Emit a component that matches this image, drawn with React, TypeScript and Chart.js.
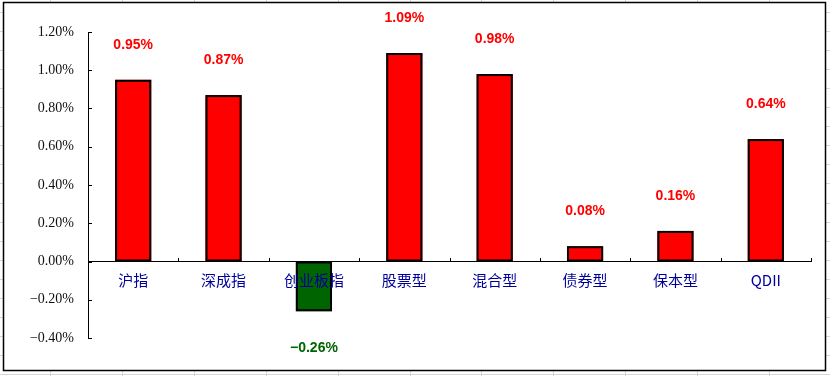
import React, { useEffect, useRef } from "react";
import { Chart, registerables } from "chart.js";

Chart.register(...registerables);

const categories = ["沪指", "深成指", "创业板指", "股票型", "混合型", "债券型", "保本型", "QDII"];
const values = [0.95, 0.87, -0.26, 1.09, 0.98, 0.08, 0.16, 0.64];
const yTicks = [-0.4, -0.2, 0, 0.2, 0.4, 0.6, 0.8, 1.0, 1.2];

const POS = "#ff0000";
const NEG = "#006400";

const fmt = (v: number) => (v < 0 ? "\u2212" : "") + Math.abs(v).toFixed(2) + "%";

const sheetPlugin = {
  id: "sheet",
  beforeDraw(chart: any) {
    const { ctx, width, height } = chart;
    ctx.save();
    ctx.fillStyle = "#ffffff";
    ctx.fillRect(0, 0, width, height);
    ctx.strokeStyle = "#d6d6d6";
    ctx.lineWidth = 1;
    for (let x = 50; x < width; x += 71.9) {
      ctx.beginPath();
      ctx.moveTo(Math.round(x) + 0.5, 0);
      ctx.lineTo(Math.round(x) + 0.5, height);
      ctx.stroke();
    }
    for (let y = 12; y < height; y += 19.05) {
      ctx.beginPath();
      ctx.moveTo(0, Math.round(y) + 0.5);
      ctx.lineTo(width, Math.round(y) + 0.5);
      ctx.stroke();
    }
    ctx.fillStyle = "#ffffff";
    ctx.fillRect(3, 2, 823, 369);
    ctx.strokeStyle = "#000000";
    ctx.lineWidth = 1.5;
    ctx.strokeRect(3.5, 2.5, 822, 368);
    ctx.restore();
  },
  afterDraw(chart: any) {
    const { ctx } = chart;
    const xs = chart.scales.x;
    const ys = chart.scales.y;
    const y0 = Math.round(ys.getPixelForValue(0));
    ctx.save();
    ctx.strokeStyle = "#000000";
    ctx.lineWidth = 1;
    const n = categories.length;
    for (let i = 1; i <= n; i++) {
      const x = Math.round((xs.getPixelForValue(i - 1) + xs.getPixelForValue(i)) / 2);
      const px = i === n ? Math.round(xs.right) : x;
      ctx.beginPath();
      ctx.moveTo(px + 0.5, y0);
      ctx.lineTo(px + 0.5, y0 - 4);
      ctx.stroke();
    }
    for (const v of yTicks) {
      const y = Math.round(ys.getPixelForValue(v)) + 0.5;
      ctx.beginPath();
      ctx.moveTo(xs.left, y);
      ctx.lineTo(xs.left + 4, y);
      ctx.stroke();
    }
    ctx.restore();
  },
};

const labelPlugin = {
  id: "valueLabels",
  afterDatasetsDraw(chart: any) {
    const { ctx } = chart;
    const meta = chart.getDatasetMeta(0);
    ctx.save();
    ctx.strokeStyle = "#000000";
    ctx.lineWidth = 2;
    meta.data.forEach((el: any) => {
      const top = Math.min(el.y, el.base);
      const h = Math.abs(el.base - el.y);
      ctx.strokeRect(el.x - el.width / 2 + 1, top + 1, el.width - 2, h - 2);
    });
    ctx.font = "bold 14px 'Liberation Sans', Arial, sans-serif";
    ctx.textAlign = "center";
    ctx.textBaseline = "middle";
    meta.data.forEach((el: any, i: number) => {
      const v = values[i];
      ctx.fillStyle = v < 0 ? NEG : POS;
      const y = v < 0 ? el.y + 37 : el.y - 35;
      ctx.fillText(fmt(v), el.x, y);
    });
    ctx.restore();
  },
};

export default function App() {
  const ref = useRef<HTMLCanvasElement>(null);
  useEffect(() => {
    if (!ref.current) return;
    const chart = new Chart(ref.current, {
      type: "bar",
      data: {
        labels: categories,
        datasets: [
          {
            data: values,
            backgroundColor: values.map((v) => (v < 0 ? NEG : POS)),
            borderWidth: 0,
            categoryPercentage: 1,
            barPercentage: 0.4,
          },
        ],
      },
      options: {
        animation: false,
        responsive: false,
        maintainAspectRatio: false,
        layout: { padding: { left: 0, right: 19, top: 32, bottom: 38 } },
        plugins: { legend: { display: false }, tooltip: { enabled: false } },
        scales: {
          x: {
            position: { y: 0 } as any,
            offset: true,
            grid: { display: false, drawTicks: false },
            border: { display: true, color: "#000000", width: 1, z: 1 },
            ticks: {
              z: 1,
              color: "#000099",
              padding: 10,
              font: { size: 15, family: "'Noto Sans CJK SC', sans-serif" },
              maxRotation: 0,
              autoSkip: false,
            },
          },
          y: {
            min: -0.4,
            max: 1.2,
            afterFit: (s: any) => {
              s.width = 88;
            },
            afterBuildTicks: (s: any) => {
              s.ticks = yTicks.map((v) => ({ value: v }));
            },
            grid: { display: false, drawTicks: false },
            border: { display: true, color: "#000000", width: 1 },
            ticks: {
              color: "#111111",
              padding: 14,
              font: { size: 14, family: "'Liberation Serif', serif" },
              callback: (v: any) => fmt(Number(v)),
            },
          },
        },
      },
      plugins: [sheetPlugin, labelPlugin],
    });
    return () => chart.destroy();
  }, []);
  return (
    <div style={{ position: "absolute", left: 0, top: 0, width: 830, height: 376 }}>
      <canvas ref={ref} width={830} height={376} style={{ width: 830, height: 376 }} />
    </div>
  );
}
